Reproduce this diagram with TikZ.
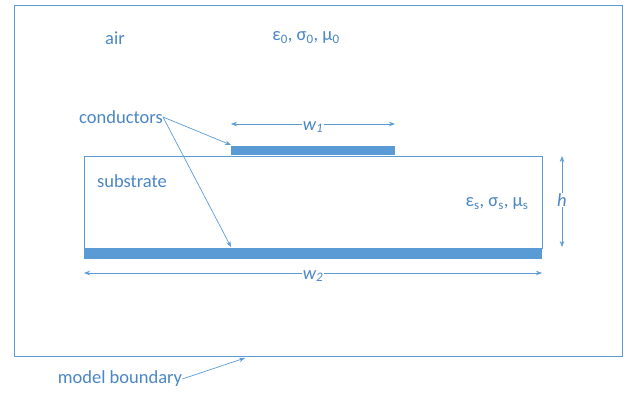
\documentclass[tikz,border=0pt]{standalone}
\usepackage{fontspec}
\setmainfont{Carlito}
\usetikzlibrary{arrows.meta}
\definecolor{bl}{HTML}{5B9BD5}
\definecolor{tx}{HTML}{4A86C5}
\tikzset{lbl/.style={text=tx,font=\fontsize{18.5}{21}\selectfont,inner sep=0pt},
 dim/.style={draw=bl,{Stealth[length=6pt]}-{Stealth[length=6pt]},line width=0.7pt},
 ptr/.style={draw=bl,-{Stealth[length=6pt]},line width=0.7pt}}
\begin{document}
\begin{tikzpicture}[x=1pt,y=-1pt]
\useasboundingbox (0,0) rectangle (632,406);
\draw[bl,line width=0.9pt] (14,5) rectangle (622,356);
\node[lbl] (air) at (115,38) {air};
\node[lbl] (eps0) at (306,38) {ε\textsubscript{0}, σ\textsubscript{0}, μ\textsubscript{0}};
\node[lbl] (cond) at (121,117) {conductors};
\fill[bl] (231,146) rectangle (395,155);
\coordinate (c1) at (231,145);
\draw[bl,line width=0.9pt] (84,156) rectangle (542,248);
\fill[bl] (84,248) rectangle (542,259);
\coordinate (c2) at (231,247);
\node[lbl] (sub) at (132,181) {substrate};
\node[lbl] (epss) at (497,204) {ε\textsubscript{s}, σ\textsubscript{s}, μ\textsubscript{s}};
\coordinate (w1a) at (231,124); \coordinate (w1b) at (395,124);
\draw[dim] (w1a) -- (w1b);
\node[lbl,fill=white,inner sep=1pt] (w1) at (313,127) {\itshape w\textsubscript{1}};
\coordinate (ha) at (562,156); \coordinate (hb) at (562,247);
\draw[dim] (ha) -- (hb);
\node[lbl,fill=white,inner sep=1pt] (h) at (562,200) {\itshape h};
\coordinate (w2a) at (84,273); \coordinate (w2b) at (542,273);
\draw[dim] (w2a) -- (w2b);
\node[lbl,fill=white,inner sep=1pt] (w2) at (313,276) {\itshape w\textsubscript{2}};
\draw[ptr] (cond.east) -- (c1);
\draw[ptr] (cond.east) -- (c2);
\node[lbl] (mb) at (120,379) {model boundary};
\coordinate (mbt) at (245,358);
\draw[ptr] (mb.east) -- (mbt);
\end{tikzpicture}
\end{document}
